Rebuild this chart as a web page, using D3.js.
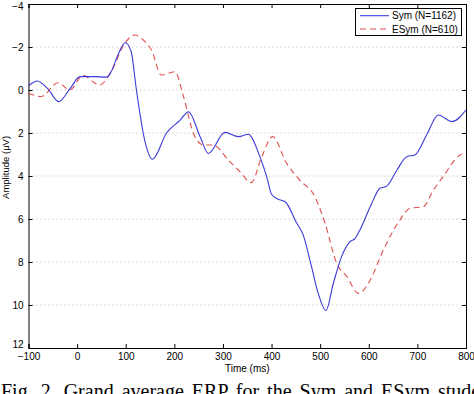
<!DOCTYPE html>
<html>
<head>
<meta charset="utf-8">
<script src="https://cdn.jsdelivr.net/npm/d3@7/dist/d3.min.js"></script>
<style>
  body { margin: 0; background: #fff; }
  svg { display: block; }
  text { font-family: "Liberation Sans", Arial, sans-serif; }
</style>
</head>
<body>
<div id="chart"></div>
<script>
// grand average ERP, amplitude in microvolts (negative up)
const symTime = [-100, -82, -60, -38, -15, 6, 35, 61, 70, 84, 99, 111, 122, 139, 155, 184, 212, 229, 253, 270, 304, 332, 352, 376, 390, 400, 414, 428, 452, 465, 481, 496, 512, 527, 544, 561, 572, 582, 603, 623, 637, 658, 678, 695, 719, 743, 771, 800];
const symAmp = [-0.19, -0.42, -0.05, 0.54, -0.05, -0.62, -0.62, -0.6, -0.85, -1.63, -2.2, -1.8, 0.0, 2.33, 3.22, 2.0, 1.4, 1.01, 2.17, 2.95, 1.97, 2.17, 2.06, 3.1, 4.03, 4.85, 5.08, 5.2, 6.2, 6.74, 8.1, 9.46, 10.26, 9.0, 7.75, 7.06, 6.9, 6.5, 5.43, 4.57, 4.47, 3.72, 3.1, 3.02, 2.09, 1.16, 1.47, 0.93];

const esymTime = [-100, -74, -39, -15, 12, 46, 70, 98, 118, 135, 153, 173, 201, 219, 239, 260, 280, 311, 335, 358, 380, 402, 431, 458, 489, 510, 534, 555, 579, 603, 630, 664, 685, 712, 733, 753, 788, 800];
const esymAmp = [0.15, 0.3, -0.34, 0.0, -0.68, -0.23, -0.85, -2.17, -2.56, -2.35, -1.86, -0.7, -0.85, 0.31, 2.0, 2.56, 2.56, 3.26, 3.8, 4.31, 3.1, 2.17, 3.41, 4.19, 4.96, 6.2, 8.06, 8.68, 9.46, 8.84, 7.44, 6.05, 5.5, 5.43, 4.65, 4.03, 3.02, 2.95];

const xTicks = [-100, 0, 100, 200, 300, 400, 500, 600, 700, 800];
const yTicks = [-4, -2, 0, 2, 4, 6, 8, 10, 12];
const seriesNames = ['Sym (N=1162)', 'ESym (N=610)'];

const width = 474, height = 394;
const margin = {top: 4, right: 8, bottom: 46, left: 28.5};

const svg = d3.select('#chart').append('svg')
  .attr('width', width)
  .attr('height', height);

const x = d3.scaleLinear()
  .domain([-100, 800])
  .range([margin.left, width - margin.right]);

const y = d3.scaleLinear()
  .domain([-4, 12])
  .range([margin.top, height - margin.bottom]);

// dotted horizontal grid
svg.append('g')
  .selectAll('line')
  .data(yTicks.slice(1, -1))
  .join('line')
  .attr('x1', x(-100))
  .attr('x2', x(800))
  .attr('y1', d => y(d))
  .attr('y2', d => y(d))
  .attr('stroke', '#b8b8b8')
  .attr('stroke-width', 1)
  .attr('stroke-dasharray', '1,3');

const fmt = d => d < 0 ? '\u2212' + Math.abs(d) : '' + d;

const xAxis = svg.append('g')
  .attr('transform', `translate(0,${y(12)})`)
  .call(d3.axisBottom(x).tickValues(xTicks).tickSize(-4).tickPadding(5).tickFormat(fmt));

const xAxisTop = svg.append('g')
  .attr('transform', `translate(0,${y(-4)})`)
  .call(d3.axisTop(x).tickValues(xTicks).tickSize(-4).tickFormat(''));

const yAxis = svg.append('g')
  .attr('transform', `translate(${x(-100)},0)`)
  .call(d3.axisLeft(y).tickValues(yTicks).tickSize(-4).tickPadding(5).tickFormat(fmt));

const yAxisRight = svg.append('g')
  .attr('transform', `translate(${x(800)},0)`)
  .call(d3.axisRight(y).tickValues(yTicks).tickSize(-4).tickFormat(''));

[xAxis, xAxisTop, yAxis, yAxisRight].forEach(a => {
  a.select('.domain').attr('stroke', '#000').attr('stroke-width', 1);
  a.selectAll('.tick line').attr('stroke', '#000');
  a.selectAll('text').attr('font-size', 10).attr('fill', '#000')
    .style('font-family', '"Liberation Sans", Arial, sans-serif');
});

// the corner labels sit a little apart in the original
yAxis.selectAll('.tick text').filter(d => d === 12).attr('dy', '-0.1em');
yAxis.selectAll('.tick text').filter(d => d === -4).attr('dy', '0.5em');

const line = d3.line()
  .x(d => x(d[0]))
  .y(d => y(d[1]))
  .curve(d3.curveMonotoneX);

svg.append('path')
  .datum(esymTime.map((t, i) => [t, esymAmp[i]]))
  .attr('fill', 'none')
  .attr('stroke', '#e0504f')
  .attr('stroke-width', 1.1)
  .attr('stroke-dasharray', '6,4')
  .attr('d', line);

svg.append('path')
  .datum(symTime.map((t, i) => [t, symAmp[i]]))
  .attr('fill', 'none')
  .attr('stroke', '#3a3ad8')
  .attr('stroke-width', 1.1)
  .attr('d', line);

// legend
const legend = svg.append('g');
legend.append('rect')
  .attr('x', 355.5).attr('y', 8.5)
  .attr('width', 106).attr('height', 27)
  .attr('fill', '#fff').attr('stroke', '#000');

const legendStyles = [
  {stroke: '#3a3ad8', dash: null},
  {stroke: '#e0504f', dash: '6,4'}
];
seriesNames.forEach((name, i) => {
  const ly = 15.7 + i * 13.3;
  legend.append('line')
    .attr('x1', 360).attr('x2', 389)
    .attr('y1', ly).attr('y2', ly)
    .attr('stroke', legendStyles[i].stroke)
    .attr('stroke-width', 1.1)
    .attr('stroke-dasharray', legendStyles[i].dash);
  legend.append('text')
    .attr('x', 392).attr('y', ly + 3.6)
    .attr('font-size', 10)
    .text(name);
});

// axis titles
svg.append('text')
  .attr('x', x(350))
  .attr('y', 372)
  .attr('text-anchor', 'middle')
  .attr('font-size', 10)
  .text('Time (ms)');

svg.append('text')
  .attr('transform', `translate(9,${y(3.6)}) rotate(-90)`)
  .attr('text-anchor', 'middle')
  .attr('font-size', 9.5)
  .text('Amplitude (\u03bcV)');

// caption, cut off by the image edge as in the source figure
svg.append('text')
  .attr('x', 1)
  .attr('y', 398)
  .attr('font-size', 20)
  .attr('word-spacing', 3)
  .style('font-family', '"Liberation Serif", "Times New Roman", serif')
  .text('Fig. 2. Grand average ERP for the Sym and ESym students');
</script>
</body>
</html>
